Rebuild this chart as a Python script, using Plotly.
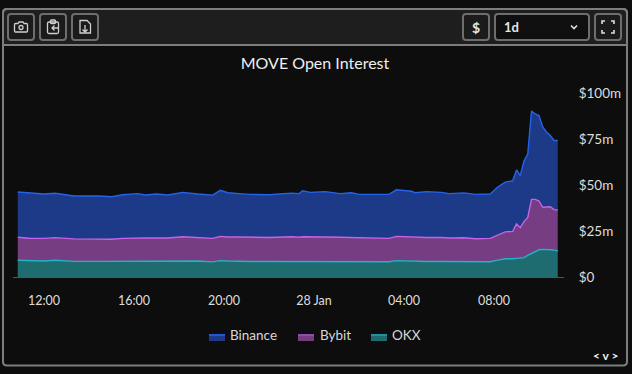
import plotly.graph_objects as go

day1 = ["10:50","11:20","12:00","12:30","13:20","14:30","15:00","15:30","16:10","16:30","17:00","17:30","18:10","18:50","19:30","19:50","20:10","20:40","21:10","22:00","23:00","23:20","23:30","23:50"]
day2 = ["00:30","01:10","01:40","02:00","02:40","03:20","03:40","04:20","04:30","05:00","05:40","06:00","06:40","07:10","07:50","08:10","08:30","08:50","09:00","09:10","09:20","09:30","09:40","09:50","10:00","10:10","10:20","10:30","10:40","10:50"]
times = ["2025-01-27 " + t for t in day1] + ["2025-01-28 " + t for t in day2]

okx = [9.1,9.0,8.7,9.1,8.5,8.5,8.5,8.7,8.9,8.8,8.7,8.7,8.9,8.7,8.2,8.9,8.7,8.5,8.4,8.4,8.4,8.4,8.7,8.4,8.4,8.3,8.4,8.3,8.3,8.3,8.9,8.5,8.4,8.4,8.4,8.4,8.4,8.3,8.3,9.2,9.9,9.9,10.2,10.5,10.5,11.8,12.8,13.6,14.8,15.0,15.05,14.8,14.6,14.3]
bybit = [12.5,12.1,12.3,12.3,12.2,12.1,12.0,12.3,12.5,12.4,12.5,12.5,13.0,12.7,12.8,13.2,13.0,13.2,13.1,13.1,13.5,13.2,13.2,13.3,13.3,13.3,13.0,12.9,12.7,12.7,13.2,13.2,13.0,13.1,13.1,12.8,12.9,12.5,12.7,13.6,14.6,14.9,18.6,16.3,19.6,20.6,29.4,28.6,26.5,22.9,23.0,23.4,22.0,22.1]
binance = [24.6,24.6,24.1,24.1,23.3,23.4,23.1,23.7,23.9,23.4,23.9,23.4,24.1,23.7,23.5,25.0,24.1,23.6,23.4,23.2,23.7,23.7,25.0,24.3,24.7,23.7,24.4,23.7,23.9,23.9,25.3,24.9,24.4,24.9,24.5,24.1,24.4,24.1,24.1,26.1,27.1,27.5,29.4,28.3,32.9,34.4,48.0,46.4,46.4,43.6,40.8,38.7,37.6,37.8]

x_ticks = ["2025-01-27 12:00","2025-01-27 16:00","2025-01-27 20:00","2025-01-28 00:00","2025-01-28 04:00","2025-01-28 08:00"]
x_labels = ["12:00","16:00","20:00","28 Jan","04:00","08:00"]
y_ticks = [0,25,50,75,100]
y_labels = ["$0","$25m","$50m","$75m","$100m"]

FONT = "Lato"
BG = "#0d0d0d"
L, R, T, B = 13, 564, 93, 277

def X(p): return (p - L) / (R - L)
def Y(p): return (B - p) / (B - T)

def path(cmds):
    out = []
    for c in cmds:
        if isinstance(c, str):
            out.append(c)
        else:
            out.append(f"{X(c[0]):.5f},{Y(c[1]):.5f}")
    return " ".join(out)

def rrect(x0, y0, x1, y1, r):
    return path(["M",(x0+r,y0),"L",(x1-r,y0),"Q",(x1,y0),(x1,y0+r),"L",(x1,y1-r),"Q",(x1,y1),(x1-r,y1),
                 "L",(x0+r,y1),"Q",(x0,y1),(x0,y1-r),"L",(x0,y0+r),"Q",(x0,y0),(x0+r,y0),"Z"])

def sh(d, line="#cfcfcf", w=1.3, fill="rgba(0,0,0,0)", layer="above"):
    return dict(type="path", xref="paper", yref="paper", path=d, layer=layer,
                line=dict(color=line, width=w), fillcolor=fill)

shapes = []
# top bar and frame
shapes.append(sh(path(["M",(3,45),"L",(3,13),"Q",(3,9),(7,9),"L",(623,9),"Q",(627,9),(627,13),"L",(627,45),"Z"]), line="#7d7d7d", w=2, fill="#1e1e1e"))
shapes.append(sh(rrect(3,9,627,365.5,4), line="#7d7d7d", w=2))
# buttons
for bx0, bx1, f in [(8,34,"#1b1b1b"),(40,66,"#1b1b1b"),(72,98,"#1b1b1b"),(463,489,"#1b1b1b"),(495,589,"#0f0f0f"),(595,621,"#1b1b1b")]:
    shapes.append(sh(rrect(bx0,14,bx1,40,3), line="#6e6e6e", w=2, fill=f))
# camera
shapes.append(sh(path(["M",(15.5,23.5),"L",(18,23.5),"L",(19,22),"L",(23,22),"L",(24,23.5),"L",(26.5,23.5),"Q",(27.5,23.5),(27.5,25),"L",(27.5,31),"Q",(27.5,32),(26.5,32),"L",(15.5,32),"Q",(14.5,32),(14.5,31),"L",(14.5,25),"Q",(14.5,23.5),(15.5,23.5),"Z"])))
shapes.append(dict(type="circle", xref="paper", yref="paper", x0=X(19), x1=X(23), y0=Y(29.5), y1=Y(25.5), line=dict(color="#cfcfcf", width=1.3)))
# clipboard
shapes.append(sh(rrect(47.5,22,58.5,33.5,1.5)))
shapes.append(sh(rrect(50.5,20,55.5,23.5,1)))
shapes.append(sh(path(["M",(59,28),"L",(52,28),"M",(54.5,25.5),"L",(52,28),"L",(54.5,30.5)])))
# file
shapes.append(sh(path(["M",(80,20.5),"L",(87,20.5),"L",(90.5,24),"L",(90.5,33),"L",(80,33),"Z"])))
shapes.append(sh(path(["M",(85,25),"L",(85,32),"M",(82.5,29.5),"L",(85,32),"L",(87.5,29.5)])))
# chevron
shapes.append(sh(path(["M",(571,25.5),"L",(574,28.5),"L",(577,25.5)]), line="#e0e0e0", w=1.6))
# fullscreen corners
shapes.append(sh(path(["M",(602,24),"L",(602,21),"L",(605,21),"M",(611,21),"L",(614,21),"L",(614,24),
                       "M",(614,30),"L",(614,33),"L",(611,33),"M",(605,33),"L",(602,33),"L",(602,30)]), line="#e0e0e0", w=1.6))

series = [("OKX", okx, "#1e6c70", "#22b3c4"), ("Bybit", bybit, "#763d82", "#c763e8"), ("Binance", binance, "#1c3a87", "#2563eb")]
fig = go.Figure()
for name, vals, fc, lc in series:
    fig.add_trace(go.Scatter(x=times, y=vals, name=name, mode="lines", stackgroup="one", fillcolor=fc,
                             line=dict(color=lc, width=1.4, shape="linear"), showlegend=False))

anns = []
def txt(px, py, s, size, color="#e6e6e6", anchor="left", bold=False):
    anns.append(dict(xref="paper", yref="paper", x=X(px), y=Y(py), text=f"<b>{s}</b>" if bold else s, showarrow=False,
                     xanchor=anchor, yanchor="middle", font=dict(family=FONT, size=size, color=color)))

txt(476, 27, "$", 14, anchor="center", bold=True)
txt(502, 27, "1d", 13, bold=True)
txt(621, 355, "&lt; v &gt;", 12, color="#eeeeee", anchor="right", bold=True)

# legend row
legend_items = [("Binance", 209, 228, "#1c3a87", "#2563eb"), ("Bybit", 298, 318, "#763d82", "#9c4fb8"), ("OKX", 371, 390, "#1e6c70", "#22a0ae")]
sw = {"Binance": 209, "Bybit": 298, "OKX": 371}
for name, sx, tx, fc, lc in legend_items:
    shapes.append(dict(type="rect", xref="paper", yref="paper", x0=X(sx), x1=X(sx+16), y0=Y(341), y1=Y(334), fillcolor=fc, line=dict(width=0)))
    shapes.append(dict(type="line", xref="paper", yref="paper", x0=X(sx), x1=X(sx+16), y0=Y(335), y1=Y(335), line=dict(color=lc, width=1.5)))
    txt(tx, 335, name, 13.5, color="#d8d8d8")

fig.update_layout(
    width=632, height=374, margin=dict(l=L, r=632-R, t=T, b=374-B, pad=0, autoexpand=False), autosize=False,
    paper_bgcolor=BG, plot_bgcolor=BG, showlegend=False, hovermode="x unified",
    title=dict(text="MOVE Open Interest", xref="paper", x=X(315), xanchor="center", yref="container", y=1-63/374, yanchor="middle",
               font=dict(family=FONT, size=16, color="#efefef")),
    xaxis=dict(type="date", range=["2025-01-27 10:37:20","2025-01-28 11:06:40"], tickvals=x_ticks, ticktext=x_labels,
               automargin=False,
               showgrid=False, zeroline=False, showline=True, linecolor="#555555", linewidth=1,
               ticks="outside", ticklen=12, tickcolor=BG, tickangle=0,
               tickfont=dict(family=FONT, size=12.5, color="#dddddd")),
    yaxis=dict(side="right", range=[0,100], tickvals=y_ticks, ticktext=y_labels, showgrid=False, zeroline=False, showline=False,
               automargin=False,
               ticks="outside", ticklen=11, tickcolor=BG,
               tickfont=dict(family=FONT, size=13.5, color="#dddddd")),
    shapes=shapes, annotations=anns,
)
fig.write_html("out.html", config=dict(displayModeBar=False),
               post_script="document.body.style.margin='0';document.body.style.background='#0d0d0d';document.body.style.overflow='hidden';")
